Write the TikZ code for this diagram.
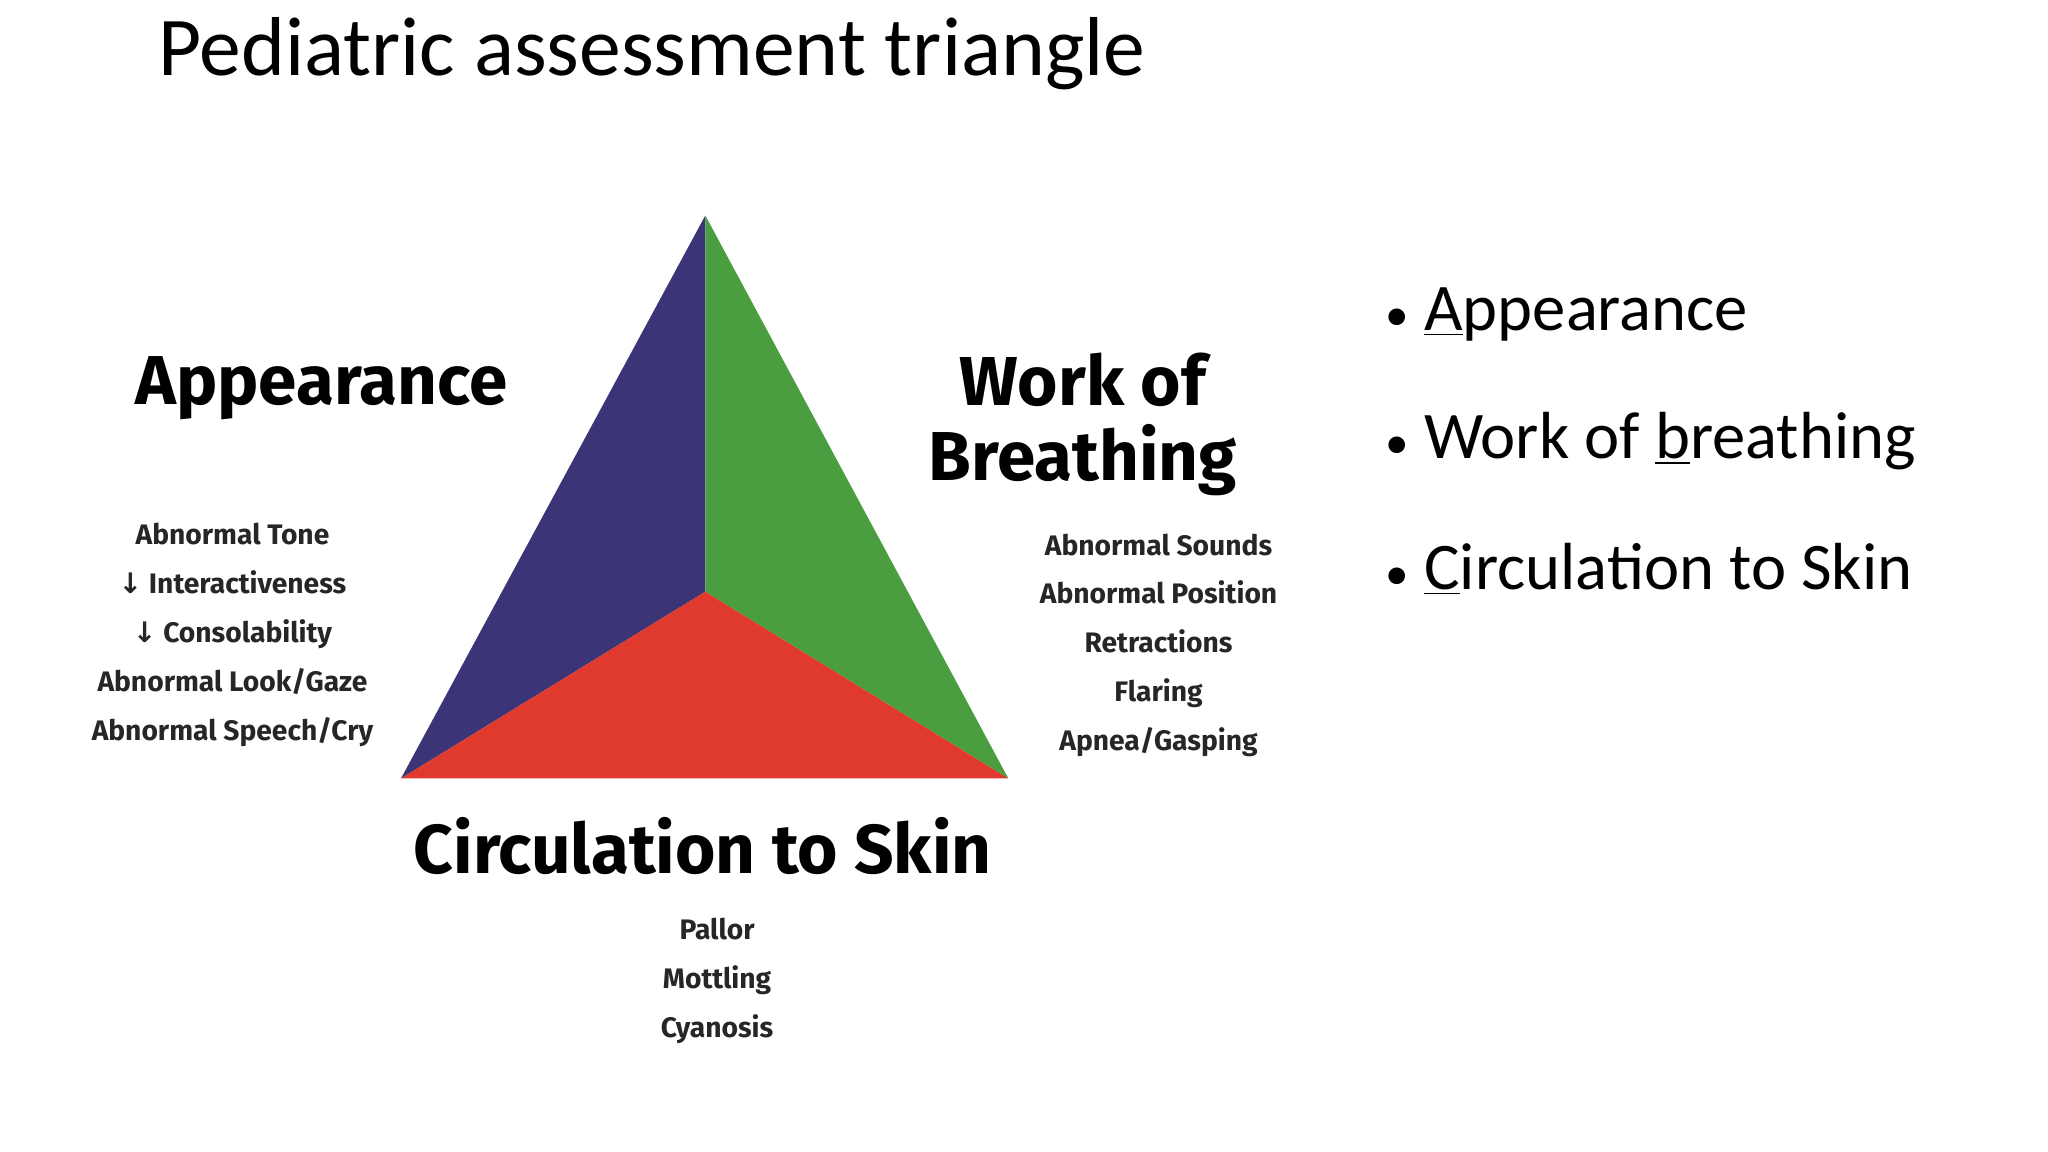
\documentclass[tikz,border=0pt]{standalone}
\usepackage{fontspec}
\setmainfont{Carlito}
\newfontfamily\heavy{Fira Sans}[UprightFont=* Bold, BoldFont=* Bold]
\newfontfamily\arrowfont{DejaVu Sans}[UprightFont=* Bold]
\definecolor{tblue}{HTML}{3B3577}
\definecolor{tgreen}{HTML}{4A9E40}
\definecolor{tred}{HTML}{E03A2F}
\tikzset{
  big/.style={font=\heavy\fontsize{26.5}{29}\selectfont, align=center, text=black},
  small/.style={font=\heavy\fontsize{10.8}{18.7}\selectfont, align=center, text=black!85},
  bullet/.style={font=\fontsize{25.5}{28}\selectfont, anchor=west}
}
\begin{document}
\begin{tikzpicture}[x=0.5pt,y=-0.5pt]
\useasboundingbox[fill=white] (0,0) rectangle (1568,882);
\node[font=\fontsize{32}{35}\selectfont, anchor=base west] (title) at (114,58) {Pediatric assessment triangle};
\coordinate (top) at (540,165);
\coordinate (bl) at (307,596);
\coordinate (br) at (772,596);
\coordinate (c) at (540,453);
\fill[tblue] (top) -- (c) -- (bl) -- cycle;
\fill[tgreen] (top) -- (br) -- (c) -- cycle;
\fill[tred] (bl) -- (c) -- (br) -- cycle;
\node[big] (app) at (246,297) {Appearance};
\node[big] (wob) at (829,325) {Work of\\Breathing};
\node[big] (cts) at (538,648) {Circulation to Skin};
\node[small] (appl) at (178,486) {Abnormal Tone\\{\arrowfont ↓} Interactiveness\\{\arrowfont ↓} Consolability\\Abnormal Look/Gaze\\Abnormal Speech/Cry};
\node[small] (wobl) at (887,494) {Abnormal Sounds\\Abnormal Position\\Retractions\\Flaring\\Apnea/Gasping};
\node[small] (ctsl) at (549,751) {Pallor\\Mottling\\Cyanosis};
\node[bullet] (b1) at (1054,241) {{\fontsize{18}{20}\selectfont\textbullet}\ \underline{A}ppearance};
\node[bullet] (b2) at (1054,338) {{\fontsize{18}{20}\selectfont\textbullet}\ Work of \underline{b}reathing};
\node[bullet] (b3) at (1054,436) {{\fontsize{18}{20}\selectfont\textbullet}\ \underline{C}irculation to Skin};
\end{tikzpicture}
\end{document}
